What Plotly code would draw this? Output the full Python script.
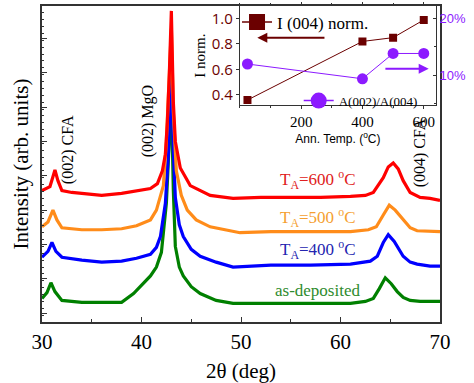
import plotly.graph_objects as go

# ---------------- main XRD patterns (arb. units) ----------------
x_red = [30.0, 30.8, 31.1, 31.3, 31.6, 32.0, 33.0, 35.0, 36.0, 38.0, 39.0, 40.9, 41.6, 42.1, 42.4, 42.6, 42.8, 43.0,
         43.2, 43.4, 43.9, 44.9, 46.9, 49.2, 52.0, 55.0, 58.0, 61.0, 62.5, 63.3, 64.3, 64.8, 65.3, 65.8, 66.3, 67.0,
         68.0, 69.0, 70.0]
y_red = [134, 138, 148, 155, 144, 134, 132, 130, 129, 131, 133, 136, 141, 154, 171, 204, 254, 317,
         224, 184, 157, 139, 129, 126, 127, 127, 127, 128, 129, 132, 147, 158, 162, 156, 144, 132,
         127, 126, 124]

x_orange = [30.0, 30.6, 31.1, 31.5, 32.0, 34.0, 36.0, 38.0, 39.5, 40.9, 41.5, 41.9, 42.2, 42.5, 42.8, 43.0,
            43.2, 43.5, 44.0, 44.6, 45.5, 46.9, 49.9, 53.0, 57.0, 61.0, 62.8, 63.6, 64.3, 64.9, 65.5, 66.3,
            67.0, 67.7, 69.0, 70.0]
y_orange = [97, 102, 114, 104, 96, 94, 94, 95, 98, 104, 114, 127, 139, 184, 244, 299,
            214, 154, 129, 114, 104, 97, 91, 92, 92, 92, 94, 97, 109, 119, 114, 104,
            96, 93, 92, 92]

x_blue = [30.0, 30.6, 31.0, 31.4, 32.0, 34.0, 36.0, 38.0, 39.5, 40.9, 41.5, 41.9, 42.4, 42.7, 43.0,
          43.2, 43.4, 43.8, 44.2, 45.0, 45.9, 47.5, 49.2, 53.0, 57.0, 61.0, 63.0, 63.7, 64.3, 64.8, 65.4,
          66.3, 67.0, 67.7, 69.0, 70.0]
y_blue = [66, 72, 81, 72, 66, 63, 61, 62, 65, 69, 76, 87, 121, 171, 269,
          174, 127, 99, 87, 74, 67, 61, 56, 58, 58, 59, 62, 67, 81, 89, 82,
          67, 61, 59, 57, 57]

x_green = [30.0, 30.5, 30.9, 31.3, 32.0, 34.0, 36.0, 38.0, 39.2, 40.9, 41.5, 42.0, 42.5, 42.8, 43.0,
           43.2, 43.4, 43.8, 44.2, 45.0, 45.9, 47.5, 49.2, 53.0, 57.0, 61.0, 62.5, 63.3, 63.9, 64.5, 65.1,
           65.7, 66.3, 67.0, 68.0, 70.0]
y_green = [24, 30, 40, 31, 22, 20, 20, 20, 29, 47, 56, 71, 121, 187, 229,
           134, 77, 56, 47, 36, 29, 22, 19, 19, 19, 19, 21, 24, 34, 45, 39,
           31, 25, 22, 21, 21]

series_names = ["as-deposited", "T<sub>A</sub>=400 <sup>o</sup>C", "T<sub>A</sub>=500 <sup>o</sup>C",
                "T<sub>A</sub>=600 <sup>o</sup>C"]
line_colors = ["#008000", "#0000ff", "#ff8c1a", "#ff0000"]
label_colors = ["#2e8b2e", "#2424b0", "#f5a030", "#e02020"]
label_x = [57.7, 57.7, 57.7, 57.7]
label_y = [32, 74, 106, 145]

# ---------------- inset data ----------------
ann_temp = [25, 400, 500, 600]
i004_norm = [0.357, 0.82, 0.85, 0.99]
area_ratio = [12.0, 9.4, 13.85, 13.85]
ratio_ticks = [10, 20]
ratio_tick_text = ["10%", "20%"]

# peak labels
peak_labels = ["(002) CFA", "(002) MgO", "(004) CFA"]
peak_label_x = [32.6, 40.6, 68.0]
peak_label_y = [176, 205, 172]

DARKRED = "#6b0000"
PURPLE = "#8c1aff"
SERIF = "Liberation Serif"

fig = go.Figure()

for xs, ys, c in zip([x_green, x_blue, x_orange, x_red], [y_green, y_blue, y_orange, y_red], line_colors):
    fig.add_trace(go.Scatter(x=xs, y=ys, mode="lines", line=dict(color=c, width=3.2),
                             showlegend=False, xaxis="x", yaxis="y"))

# inset traces
fig.add_trace(go.Scatter(x=ann_temp, y=i004_norm, mode="lines+markers",
                         line=dict(color=DARKRED, width=1),
                         marker=dict(symbol="square", size=8, color=DARKRED),
                         showlegend=False, xaxis="x2", yaxis="y2"))
fig.add_trace(go.Scatter(x=ann_temp, y=area_ratio, mode="lines+markers",
                         line=dict(color=PURPLE, width=1),
                         marker=dict(symbol="circle", size=11, color=PURPLE),
                         showlegend=False, xaxis="x2", yaxis="y3"))
# legend entries
fig.add_trace(go.Scatter(x=[None], y=[None], mode="lines+markers", name="I (004) norm.",
                         line=dict(color=DARKRED, width=1.5),
                         marker=dict(symbol="square", size=16, color=DARKRED),
                         xaxis="x2", yaxis="y2", legend="legend"))
fig.add_trace(go.Scatter(x=[None], y=[None], mode="lines+markers", name="A(002)/A(004)",
                         line=dict(color=PURPLE, width=1.5),
                         marker=dict(symbol="circle", size=16, color=PURPLE),
                         xaxis="x2", yaxis="y3", legend="legend2"))

annotations = []
for name, c, lx, ly in zip(series_names, label_colors, label_x, label_y):
    annotations.append(dict(x=lx, y=ly, xref="x", yref="y", text=name, showarrow=False,
                            font=dict(family=SERIF, size=17, color=c)))
for t, lx, ly in zip(peak_labels, peak_label_x, peak_label_y):
    annotations.append(dict(x=lx, y=ly, xref="x", yref="y", text=t, showarrow=False, textangle=-90,
                            font=dict(family=SERIF, size=16, color="black")))
# inset arrows
annotations.append(dict(x=57, y=0.849, xref="x2", yref="y2", ax=281, ay=0.849, axref="x2", ayref="y2",
                        showarrow=True, arrowhead=2, arrowsize=1, arrowwidth=2, arrowcolor=DARKRED, text=""))
annotations.append(dict(x=616, y=0.605, xref="x2", yref="y2", ax=470, ay=0.605, axref="x2", ayref="y2",
                        showarrow=True, arrowhead=2, arrowsize=1, arrowwidth=2, arrowcolor=PURPLE, text=""))

AX = "#333333"
fig.update_layout(
    width=474, height=383,
    margin=dict(l=42, r=34, t=2, b=59),
    paper_bgcolor="white", plot_bgcolor="white",
    xaxis=dict(domain=[0, 1], range=[30, 70], tick0=30, dtick=10, ticks="inside", ticklen=5,
               minor=dict(dtick=5, ticks="inside", ticklen=3, tickcolor=AX),
               showline=True, mirror=True, linecolor=AX, linewidth=1.5, tickcolor=AX,
               showgrid=False, zeroline=False,
               tickfont=dict(family=SERIF, size=21, color="black"),
               title=dict(text="2θ (deg)", font=dict(family=SERIF, size=21, color="black"), standoff=12)),
    yaxis=dict(domain=[0, 1], range=[0, 322], tick0=9, dtick=35, ticks="inside", ticklen=5,
               minor=dict(dtick=7, ticks="inside", ticklen=2.5, tickcolor=AX),
               showticklabels=False, showline=True, mirror=True, linecolor=AX, linewidth=1.5,
               tickcolor=AX, showgrid=False, zeroline=False,
               title=dict(text="Intensity (arb. units)", font=dict(family=SERIF, size=21, color="black"),
                          standoff=6)),
    xaxis2=dict(domain=[0.497, 0.99], range=[0, 640], anchor="y2", tickvals=[200, 400, 600],
                ticks="outside", ticklen=3, minor=dict(dtick=100, ticks="outside", ticklen=2),
                showline=True, mirror="ticks", linecolor=AX, linewidth=1, tickcolor=AX,
                showgrid=False, zeroline=False,
                tickfont=dict(family=SERIF, size=15, color="black"),
                title=dict(text="Ann. Temp. (<sup>o</sup>C)", font=dict(family="Liberation Sans", size=12,
                                                                       color="black"), standoff=2)),
    yaxis2=dict(domain=[0.686, 1.0], range=[0.316, 1.1], anchor="x2", tickvals=[0.4, 0.6, 0.8, 1.0],
                tickformat=".1f", ticks="outside", ticklen=3, showline=True, linecolor=AX, linewidth=1,
                tickcolor=AX, showgrid=False, zeroline=False,
                tickfont=dict(family="Open Sans", size=15, color=DARKRED),
                title=dict(text="I norm.", font=dict(family=SERIF, size=15, color="black"), standoff=2)),
    yaxis3=dict(range=[4.75, 22.2], overlaying="y2", side="right", anchor="x2", tickvals=ratio_ticks,
                ticktext=ratio_tick_text, ticks="inside", ticklen=3,
                minor=dict(dtick=5, ticks="inside", ticklen=2),
                showline=True, linecolor=AX, linewidth=1, tickcolor=AX, showgrid=False, zeroline=False,
                tickfont=dict(family="Liberation Sans", size=13, color=PURPLE)),
    legend=dict(x=0.49, y=1.005, xanchor="left", yanchor="top", bgcolor="rgba(0,0,0,0)",
                font=dict(family=SERIF, size=17, color="black"), itemsizing="trace"),
    legend2=dict(x=0.645, y=0.748, xanchor="left", yanchor="top", bgcolor="rgba(0,0,0,0)",
                 font=dict(family=SERIF, size=13, color="black"), itemsizing="trace"),
    annotations=annotations,
)

fig.write_html("out.html")
